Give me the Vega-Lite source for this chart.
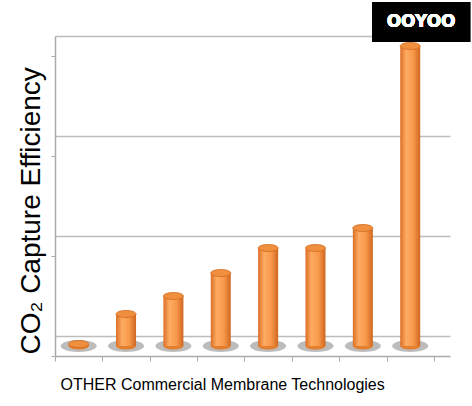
{
  "$schema": "https://vega.github.io/schema/vega-lite/v6.json",
  "description": "CO2 capture efficiency, other commercial membrane technologies vs OOYOO",
  "width": 395,
  "height": 320,
  "autosize": "none",
  "padding": {"left": 55, "top": 36, "right": 22, "bottom": 50},
  "background": "white",
  "data": {
    "values": [
      {"tech": "Other 1", "efficiency": 0.02},
      {"tech": "Other 2", "efficiency": 0.32},
      {"tech": "Other 3", "efficiency": 0.5},
      {"tech": "Other 4", "efficiency": 0.73},
      {"tech": "Other 5", "efficiency": 0.98},
      {"tech": "Other 6", "efficiency": 0.98},
      {"tech": "Other 7", "efficiency": 1.18},
      {"tech": "OOYOO", "efficiency": 3.0}
    ]
  },
  "encoding": {
    "x": {
      "field": "tech",
      "type": "nominal",
      "sort": null,
      "scale": {"paddingInner": 0, "paddingOuter": 0.17, "align": 0},
      "axis": {
        "labels": false,
        "tickBand": "extent",
        "tickSize": 5,
        "tickColor": "#aaaaaa",
        "domainColor": "#aaaaaa",
        "domainWidth": 1.5,
        "title": "OTHER Commercial Membrane Technologies",
        "titleFont": "Liberation Sans",
        "titleFontSize": 16,
        "titleFontWeight": "normal",
        "titleColor": "black",
        "titleAnchor": "start",
        "titleAlign": "left",
        "titleBaseline": "alphabetic",
        "titleX": 5,
        "titleY": 33
      }
    }
  },
  "layer": [
    {
      "mark": {
        "type": "point",
        "shape": "M-1,0A1,0.33,0,1,1,1,0A1,0.33,0,1,1,-1,0Z",
        "size": 1300,
        "filled": true,
        "color": "#7a7a7a",
        "opacity": 0.5
      },
      "encoding": {
        "y": {
          "datum": 0,
          "type": "quantitative",
          "scale": {"domain": [-0.1, 3.1], "nice": false, "zero": false},
          "axis": {
            "orient": "left",
            "values": [0, 1, 2, 3],
            "grid": true,
            "gridColor": "#bdbdbd",
            "gridWidth": 1.5,
            "tickOffset": -10,
            "ticks": false,
            "labels": false,
            "domain": false,
            "title": null
          }
        }
      }
    },
    {
      "mark": {
        "type": "point",
        "shape": "M-1,0A1,0.35,0,1,1,1,0A1,0.35,0,1,1,-1,0Z",
        "size": 400,
        "filled": true,
        "color": "#e3802f",
        "opacity": 1
      },
      "encoding": {
        "y": {"datum": 0, "type": "quantitative", "axis": null}
      }
    },
    {
      "mark": {
        "type": "bar",
        "size": 20,
        "color": {
          "gradient": "linear",
          "x1": 0, "x2": 1, "y1": 0, "y2": 0,
          "stops": [
            {"offset": 0, "color": "#dd6e24"},
            {"offset": 0.3, "color": "#fdab63"},
            {"offset": 0.65, "color": "#f8994a"},
            {"offset": 1, "color": "#cf6620"}
          ]
        }
      },
      "encoding": {
        "y": {
          "field": "efficiency",
          "type": "quantitative",
          "axis": {
            "orient": "left",
            "values": [0, 1, 2, 3],
            "grid": false,
            "tickOffset": 10,
            "tickSize": 4,
            "tickColor": "#aaaaaa",
            "domainColor": "#aaaaaa",
            "domainWidth": 1.5,
            "labels": false,
            "title": "CO₂ Capture Efficiency",
            "titleFont": "Liberation Sans",
            "titleFontSize": 28,
            "titleFontWeight": "normal",
            "titleColor": "black",
            "titleAngle": -90,
            "titleAlign": "left",
            "titleBaseline": "alphabetic",
            "titleX": -16,
            "titleY": 318
          }
        }
      }
    },
    {
      "mark": {
        "type": "point",
        "shape": "M-1,0A1,0.35,0,1,1,1,0A1,0.35,0,1,1,-1,0Z",
        "size": 400,
        "filled": true,
        "color": "#f0903f",
        "stroke": "#d06a22",
        "strokeWidth": 0.8,
        "opacity": 1
      },
      "encoding": {
        "y": {"field": "efficiency", "type": "quantitative", "axis": null}
      }
    },
    {
      "mark": {
        "type": "point",
        "shape": "M-1,-0.41H1V0.41H-1Z",
        "size": 9604,
        "filled": true,
        "color": "black",
        "opacity": 1
      },
      "encoding": {
        "x": {"datum": "OOYOO", "bandPosition": 0.73},
        "y": {"datum": 3.24, "type": "quantitative", "axis": null}
      }
    },
    {
      "mark": {
        "type": "text",
        "text": "OOYOO",
        "font": "DejaVu Sans",
        "fontWeight": "bold",
        "fontSize": 17,
        "color": "white",
        "align": "center",
        "baseline": "middle"
      },
      "encoding": {
        "x": {"datum": "OOYOO", "bandPosition": 0.73},
        "y": {"datum": 3.24, "type": "quantitative", "axis": null}
      }
    }
  ],
  "resolve": {"axis": {"y": "independent"}},
  "config": {"view": {"stroke": null}}
}
